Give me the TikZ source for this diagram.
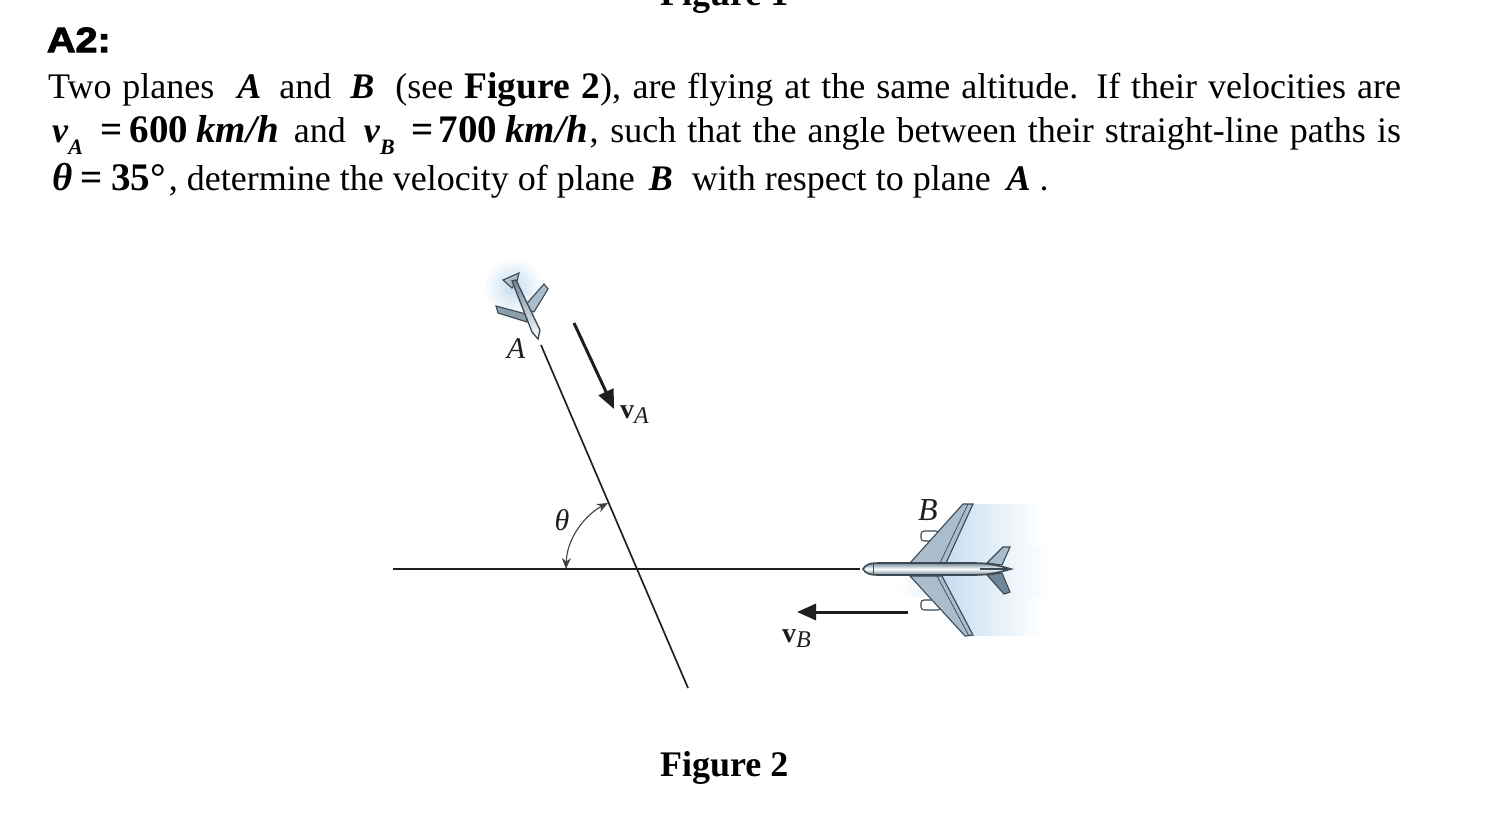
\documentclass[tikz,border=0pt]{standalone}
\usepackage{fontspec}
\setmainfont{Liberation Serif}
\newfontfamily\headfont[BoldFeatures={FakeBold=3,FakeStretch=1.13}]{Liberation Sans}
\usetikzlibrary{arrows.meta}
\definecolor{wingc}{HTML}{A9BDCC}
\definecolor{wingd}{HTML}{6F8798}
\definecolor{edgec}{HTML}{3C4852}
\definecolor{trail}{HTML}{C4DCF0}
\definecolor{inkc}{HTML}{1E1E1E}
\newcommand{\bi}[1]{\textbf{\textit{#1}}}
\newcommand{\mth}[1]{{\fontsize{39}{39}\selectfont\textbf{#1}}}
\newcommand{\mthi}[1]{{\fontsize{39}{39}\selectfont\textbf{\textit{#1}}}}
\newcommand{\subs}[1]{\raisebox{-0.36em}{\fontsize{22}{22}\selectfont\bi{#1}}}
\tikzset{
 x=1pt,y=-1pt,
 body/.style={anchor=base west,inner sep=0,outer sep=0,font=\fontsize{36}{36}\selectfont},
 lab/.style={inner sep=0,outer sep=0,text=inkc,font=\fontsize{30}{30}\selectfont\itshape},
 vlab/.style={inner sep=0,outer sep=0,text=inkc,anchor=base west,font=\fontsize{28}{28}\selectfont},
 pathline/.style={draw=inkc,line width=1.7pt},
 varrow/.style={draw=inkc,line width=3pt,-{Triangle[length=19pt,width=16pt]}},
 thetaarc/.style={draw=inkc!85,line width=1.1pt,{Stealth[length=11pt,width=9pt]}-{Stealth[length=11pt,width=9pt]}},
 wing/.style={draw=edgec,line width=1.1pt,fill=wingc},
 engine/.style={draw=edgec,line width=1.1pt,fill=white,rounded corners=3pt},
 fuselage/.style={draw=edgec,line width=1.6pt,top color=wingd,bottom color=wingd,middle color=white}
}
\begin{document}
\begin{tikzpicture}
\useasboundingbox (0,0) rectangle (1508,822);
\clip (0,0) rectangle (1508,822);
% text
\node[body] (figone) at (660,5) {\textbf{Figure 1}};
\node[body,font=\fontsize{35}{35}\selectfont\headfont\bfseries] (head) at (47,52) {A2:};
\node[body] (lineone) at (48,98) {\makebox[1353pt][s]{Two planes\hspace*{23pt}\bi{A}\hspace*{18pt}and\hspace*{19pt}\bi{B}\hspace*{21pt}(see \textbf{\fontsize{37.5}{37}\selectfont Figure 2}), are flying at the same altitude. If their velocities are}};
\node[body] (linetwo) at (52,142) {\makebox[1349pt][s]{\makebox[48pt][l]{\bi{v}\subs{A}}\makebox[30pt][l]{\mth{=}}\mth{600}\hspace*{8pt}\mthi{km/h}\hspace*{15pt}and\hspace*{18pt}\makebox[48pt][l]{\bi{v}\subs{B}}\makebox[27pt][l]{\mth{=}}\mth{700}\hspace*{8pt}\mthi{km/h}\hspace*{2pt}, such that the angle between their straight-line paths is}};
\node[body] (linethree) at (52,190) {\makebox[117pt][l]{\mthi{θ}\hspace*{8pt}\mth{=}\hspace*{9pt}\mth{35°}}, determine the velocity of plane\hspace*{14pt}\bi{B}\hspace*{19pt}with respect to plane\hspace*{16pt}\bi{A}\hspace*{9pt}.};
\node[body] (figtwo) at (660,776) {\textbf{Figure 2}};
% trails of plane B
\shade[left color=white,right color=trail!60,draw=none] (897,577) -- (960,577) -- (960,596) -- (897,596) -- cycle;
\shade[left color=trail,right color=white,draw=none] (968,504) -- (1042,504) -- (1042,636) -- (968,636) -- (940,577) -- (940,563) -- cycle;
\shade[left color=trail!27,right color=white,draw=none] (1015,547) -- (1052,547) -- (1052,596) -- (1015,596) -- cycle;
% plane B
\draw[engine] (921,531) -- (939,531) -- (939,541) -- (921,541) -- cycle;
\draw[engine] (921,600) -- (941,600) -- (941,610) -- (921,610) -- cycle;
\draw[wing] (910,563) -- (963,504) -- (973,504) -- (946,563) -- cycle;
\draw[wing] (910,576) -- (965,636) -- (973,635) -- (942,576) -- cycle;
\draw[edgec,line width=.7pt] (940,563) -- (968,504) (937,576) -- (969,636);
\draw[wing] (987,563) -- (1003,547) -- (1010,547) -- (1002,565) -- cycle;
\draw[wing,fill=wingd] (987,575) -- (1004,594) -- (1010,592) -- (1002,573) -- cycle;
\draw[fuselage] (863,569) .. controls (866,564) and (870,563) .. (880,563) -- (975,563) .. controls (990,563) and (1000,566) .. (1011,569) .. controls (1000,572) and (990,575) .. (975,575) -- (880,575) .. controls (870,575) and (866,574) .. (863,569) -- cycle;
\draw[edgec,line width=1pt] (873,564) -- (873,574);
\draw[edgec,line width=1.2pt] (980,569) -- (1011,569);
% cloud behind plane A
\shade[inner color=trail,outer color=white,draw=none] (513,287) circle (30);
% plane A
\draw[wing] (523,308) -- (544,284) -- (548,289) -- (534,312) -- cycle;
\draw[wing,fill=wingd!80] (526,314) -- (496,306) -- (498,313) -- (527,322) -- cycle;
\draw[wing] (503,280) -- (519,273) -- (517,281) -- (512,288) -- cycle;
\draw[fuselage,line width=1.3pt,top color=wingd,bottom color=white] (512,281) -- (516,280) -- (540,330) -- (538,339) -- (532,332) -- cycle;
% labels
\node[lab] (A) at (516,349) {A};
\node[lab] (B) at (928,510) {\fontsize{32}{32}\selectfont B};
\node[lab] (theta) at (562,520) {\fontsize{30}{30}\selectfont θ};
\node[vlab] (vA) at (620,418) {\textbf{v}\raisebox{-.2em}{\fontsize{24}{24}\selectfont\itshape A}};
\node[vlab] (vB) at (782,642) {\textbf{v}\raisebox{-.2em}{\fontsize{24}{24}\selectfont\itshape B}};
% connectors
\coordinate (aend) at (541,345);
\coordinate (aline) at (688,688);
\coordinate (hstart) at (393,569);
\coordinate (bnose) at (860,569);
\draw[pathline] (aend) -- (aline);
\draw[pathline] (hstart) -- (bnose);
\coordinate (vastart) at (574,323);
\coordinate (vaend) at (614,409);
\draw[varrow] (vastart) -- (vaend);
\coordinate (vbstart) at (908,612);
\coordinate (vbend) at (797,612);
\draw[varrow] (vbstart) -- (vbend);
\coordinate (tha) at (566,569);
\coordinate (thb) at (608,503);
\draw[thetaarc] (tha) .. controls (567,538) and (585,515) .. (thb);
\end{tikzpicture}
\end{document}
